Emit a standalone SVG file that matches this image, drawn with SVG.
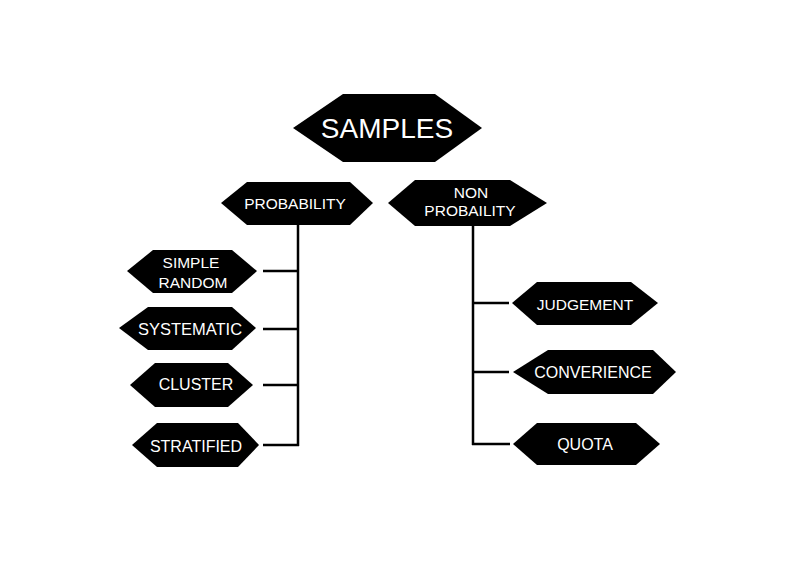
<svg xmlns="http://www.w3.org/2000/svg" width="800" height="582" viewBox="0 0 800 582">
<style>
.n{fill:#000}
.t{fill:#fff;font-family:"Liberation Sans",Arial,sans-serif;text-anchor:middle}
.c{stroke:#000;stroke-width:2.5;fill:none}
</style>
<rect width="800" height="582" fill="#fff"/>
<g id="connectors">
<path class="c" d="M298,225V446M263,271H299M263,329H299M263,385H299M263,445H299"/>
<path class="c" d="M473,226V445M472,303H509M472,372H509M472,444H510"/>
</g>
<g id="samples"><polygon class="n" points="293,128 343,94 435,94 482,128 435,162 343,162"/><text class="t" x="387" y="138" font-size="28">SAMPLES</text></g>
<g id="probability"><polygon class="n" points="221,203 247,182 350,182 373,203 350,225 247,225"/><text class="t" x="295" y="209" font-size="15.5">PROBABILITY</text></g>
<g id="non-probability"><polygon class="n" points="388,203 415,180 510,180 547,203 510,226 415,226"/><text class="t" x="471" y="198" font-size="15.5">NON</text><text class="t" x="470" y="216" font-size="15.5">PROBAILITY</text></g>
<g id="simple-random"><polygon class="n" points="127,271 153,250 232,250 257,271 232,293 153,293"/><text class="t" x="191" y="268" font-size="15.5">SIMPLE</text><text class="t" x="193" y="288" font-size="15.5">RANDOM</text></g>
<g id="systematic"><polygon class="n" points="119,328 148,307 232,307 256,328 232,350 148,350"/><text class="t" x="190" y="335" font-size="16.5">SYSTEMATIC</text></g>
<g id="cluster"><polygon class="n" points="130,385 155,363 228,363 253,385 228,407 155,407"/><text class="t" x="196" y="390" font-size="16">CLUSTER</text></g>
<g id="stratified"><polygon class="n" points="132,445 157,423 238,423 259,445 238,467 157,467"/><text class="t" x="196" y="452" font-size="16">STRATIFIED</text></g>
<g id="judgement"><polygon class="n" points="512,303 537,282 631,282 658,303 631,325 537,325"/><text class="t" x="585" y="310" font-size="15.5">JUDGEMENT</text></g>
<g id="converience"><polygon class="n" points="513,372 548,350 653,350 676,372 653,394 548,394"/><text class="t" x="593" y="378" font-size="16">CONVERIENCE</text></g>
<g id="quota"><polygon class="n" points="513,444 537,423 636,423 660,444 636,465 537,465"/><text class="t" x="585" y="450" font-size="16">QUOTA</text></g>
</svg>
